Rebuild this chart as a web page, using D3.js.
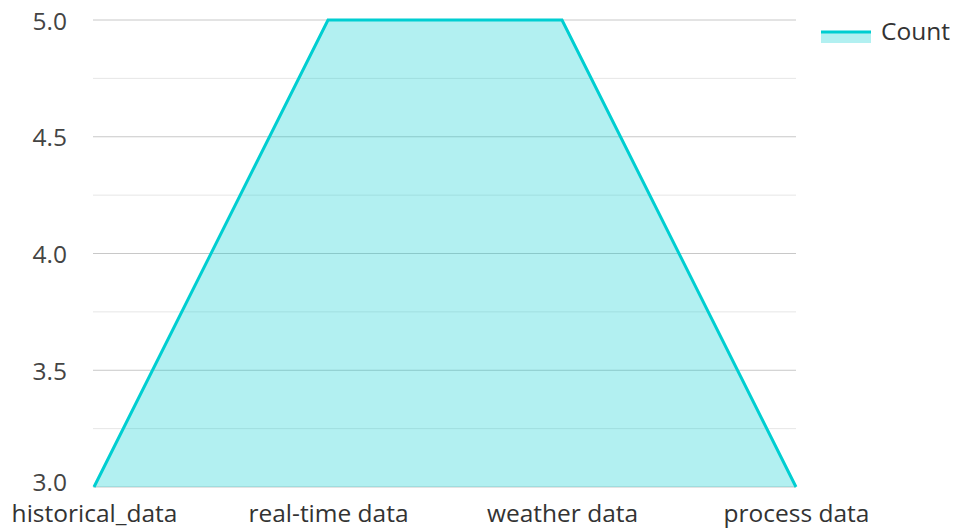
<!DOCTYPE html>
<html><head><meta charset="utf-8">
<script src="https://cdn.jsdelivr.net/npm/d3@7/dist/d3.min.js"></script>
<style>body{margin:0;background:#fff}svg{display:block;font-family:"Open Sans","Noto Sans",sans-serif}</style>
</head><body><svg id="c" width="953" height="529"></svg>
<script>
const categories = ["historical_data", "real-time data", "weather data", "process data"];
const values = [3, 5, 5, 3];
const yTicks = [3.0, 3.5, 4.0, 4.5, 5.0];
const yMinor = [3.25, 3.75, 4.25, 4.75];
const seriesName = "Count";

(function(){
const svg = d3.select("#c");
const pL = 94, pR = 796, pT = 20, pB = 487;
const x = d3.scalePoint().domain(categories).range([pL, pR]);
const y = d3.scaleLinear().domain([3, 5]).range([pB, pT]);
const color = "#00CED1";
const font = "'Open Sans','Noto Sans',sans-serif";
const fs = 24.5;

svg.append("g").selectAll("line").data(yMinor).join("line")
  .attr("x1", pL - 1).attr("x2", pR).attr("y1", d => y(d)).attr("y2", d => y(d))
  .attr("stroke", "#e6e6e6").attr("stroke-width", 1);
svg.append("g").selectAll("line").data(yTicks).join("line")
  .attr("x1", pL - 1).attr("x2", pR).attr("y1", d => y(d)).attr("y2", d => y(d))
  .attr("stroke", "#c8c8c8").attr("stroke-width", 1);

const data = categories.map((c, i) => ({c, v: values[i]}));
svg.append("path").datum(data)
  .attr("d", d3.area().x(d => x(d.c)).y0(y(3)).y1(d => y(d.v)))
  .attr("fill", color).attr("fill-opacity", 0.3);
svg.append("path").datum(data)
  .attr("d", d3.line().x(d => x(d.c)).y(d => y(d.v)))
  .attr("fill", "none").attr("stroke", color).attr("stroke-width", 3);

const yAxis = d3.axisLeft(y).tickValues(yTicks).tickFormat(d3.format(".1f")).tickSize(0).tickPadding(27);
const ya = svg.append("g").attr("transform", `translate(${pL},0)`).call(yAxis);
ya.select(".domain").remove();
ya.selectAll("text").attr("font-size", fs).attr("fill", "#444").attr("font-family", font)
  .attr("dy", d => d === 3 ? "0.14em" : "0.37em");

const xAxis = d3.axisBottom(x).tickSize(0).tickPadding(18);
const xa = svg.append("g").attr("transform", `translate(0,${pB})`).call(xAxis);
xa.select(".domain").remove();
xa.selectAll("text").attr("font-size", fs).attr("fill", "#333").attr("font-family", font);

const lg = svg.append("g");
lg.append("rect").attr("x", 821).attr("y", 31).attr("width", 50).attr("height", 12).attr("fill", color).attr("fill-opacity", 0.3);
lg.append("line").attr("x1", 821).attr("x2", 871).attr("y1", 32).attr("y2", 32).attr("stroke", color).attr("stroke-width", 3);
lg.append("text").attr("x", 881).attr("y", 40).text(seriesName).attr("font-size", fs).attr("fill", "#333").attr("font-family", font);
})();
</script></body></html>
